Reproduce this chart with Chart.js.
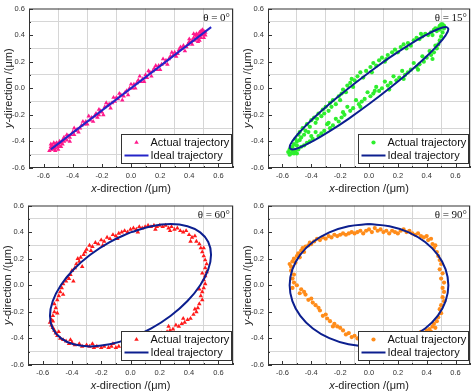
<!DOCTYPE html>
<html>
<head>
<meta charset="utf-8">
<script src="https://cdn.jsdelivr.net/npm/chart.js@4.4.1/dist/chart.umd.min.js"></script>
<style>
  html, body { margin: 0; padding: 0; background: #fff; }
  #wrap { position: relative; width: 474px; height: 392px; overflow: hidden; }
  .panel { position: absolute; }
</style>
</head>
<body>
<div id="wrap">
  <div class="panel" style="left:0;top:0"><canvas id="c0" width="237" height="196"></canvas></div>
  <div class="panel" style="left:237px;top:0"><canvas id="c1" width="237" height="196"></canvas></div>
  <div class="panel" style="left:0;top:197px"><canvas id="c2" width="237" height="195"></canvas></div>
  <div class="panel" style="left:237px;top:197px"><canvas id="c3" width="237" height="195"></canvas></div>
</div>
<script>
// textos
const thetaLabels = ['θ = 0°', 'θ = 15°', 'θ = 60°', 'θ = 90°'];
const actualLabel = 'Actual trajectory';
const idealLabel = 'Ideal trajectory';
const xTitle = ['x', '-direction /(μm)'];
const yTitle = ['y', '-direction /(μm)'];

// eixos
const xMin = -0.7, xMax = 0.7;
const yMin = -0.6, yMax = 0.6;
const tickStep = 0.1;

// pontos medidos (x, y) em µm
const actual0 = [
  [-0.56,-0.47],[-0.55,-0.46],[-0.55,-0.44],[-0.54,-0.45],[-0.54,-0.43],[-0.53,-0.46],[-0.53,-0.44],[-0.52,-0.42],
  [-0.52,-0.45],[-0.51,-0.43],[-0.51,-0.41],[-0.50,-0.44],[-0.50,-0.42],[-0.49,-0.40],[-0.49,-0.43],[-0.48,-0.41],
  [-0.47,-0.39],[-0.47,-0.42],[-0.46,-0.40],[-0.45,-0.38],[-0.44,-0.39],[-0.43,-0.36],[-0.42,-0.37],[-0.41,-0.35],
  [-0.40,-0.33],[-0.39,-0.35],[-0.38,-0.32],[-0.37,-0.31],[-0.35,-0.30],[-0.34,-0.28],[-0.32,-0.27],[-0.31,-0.25],
  [-0.30,-0.27],[-0.28,-0.24],[-0.27,-0.22],[-0.25,-0.21],[-0.24,-0.19],[-0.23,-0.22],[-0.22,-0.20],[-0.21,-0.17],
  [-0.20,-0.18],[-0.18,-0.14],[-0.16,-0.13],[-0.15,-0.12],[-0.13,-0.11],[-0.11,-0.10],[-0.10,-0.07],[-0.09,-0.08],
  [-0.07,-0.05],[-0.05,-0.06],[-0.04,-0.03],[-0.03,-0.02],[-0.01,0.00],[0.01,0.00],[0.02,0.03],[0.04,0.04],
  [0.05,0.06],[0.07,0.05],[0.08,0.07],[0.10,0.10],[0.11,0.08],[0.13,0.12],[0.15,0.13],[0.16,0.15],
  [0.18,0.14],[0.19,0.17],[0.21,0.18],[0.23,0.19],[0.24,0.21],[0.26,0.22],[0.27,0.24],[0.29,0.25],
  [0.30,0.27],[0.32,0.26],[0.33,0.29],[0.35,0.30],[0.36,0.32],[0.38,0.31],[0.39,0.33],[0.40,0.35],
  [0.41,0.34],[0.42,0.36],[0.43,0.38],[0.44,0.36],[0.45,0.39],[0.46,0.37],[0.46,0.40],[0.47,0.39],
  [0.48,0.41],[0.48,0.38],[0.49,0.42],[0.49,0.40],[0.50,0.41],[0.50,0.43],[0.51,0.42],[0.51,0.40],
  [0.47,0.42],[0.45,0.41],
  [-0.55,-0.42],[-0.53,-0.41],[-0.52,-0.47],[-0.50,-0.46],[-0.48,-0.44],[-0.46,-0.37],[-0.44,-0.35],[-0.42,-0.40],
  [-0.39,-0.30],[-0.36,-0.33],[-0.33,-0.25],[-0.29,-0.21],[-0.26,-0.25],[-0.22,-0.16],[-0.19,-0.20],[-0.17,-0.11],
  [-0.14,-0.15],[-0.12,-0.07],[-0.08,-0.04],[-0.06,-0.09],[-0.02,-0.05],[0.00,0.03],[0.03,0.00],[0.06,0.09],
  [0.09,0.05],[0.12,0.13],[0.14,0.09],[0.17,0.17],[0.20,0.14],[0.22,0.22],[0.25,0.18],[0.28,0.27],
  [0.31,0.24],[0.34,0.31],[0.37,0.28],[0.40,0.37],[0.42,0.33],[0.44,0.40],[0.46,0.35],[0.48,0.43],
  [0.50,0.38],[0.49,0.44],[0.47,0.36],[0.43,0.41]
];
const actual1 = [
  [-0.56,-0.48],[-0.55,-0.46],[-0.54,-0.49],[-0.53,-0.44],[-0.53,-0.47],[-0.52,-0.42],[-0.51,-0.38],[-0.50,-0.40],
  [-0.49,-0.35],[-0.48,-0.33],[-0.47,-0.37],[-0.46,-0.30],[-0.44,-0.32],[-0.43,-0.27],[-0.41,-0.29],[-0.40,-0.24],
  [-0.38,-0.22],[-0.37,-0.26],[-0.35,-0.19],[-0.33,-0.21],[-0.32,-0.16],[-0.30,-0.14],[-0.28,-0.17],[-0.27,-0.11],
  [-0.25,-0.09],[-0.23,-0.12],[-0.21,-0.06],[-0.19,-0.04],[-0.18,-0.01],[-0.16,-0.03],[-0.15,0.02],[-0.13,0.04],
  [-0.11,0.01],[-0.10,0.06],[-0.08,0.09],[-0.06,0.12],[-0.04,0.08],[-0.02,0.13],[0.01,0.16],[0.03,0.19],
  [0.05,0.17],[0.07,0.21],[0.09,0.23],[0.11,0.20],[0.13,0.25],[0.16,0.27],[0.18,0.29],[0.20,0.27],
  [0.22,0.31],[0.24,0.33],[0.27,0.34],[0.29,0.32],[0.31,0.36],[0.33,0.38],[0.35,0.37],[0.37,0.39],
  [0.39,0.41],[0.41,0.40],[0.43,0.42],[0.45,0.44],[0.47,0.43],[0.48,0.45],[0.49,0.47],[0.50,0.46],
  [0.51,0.48],[0.52,0.47],[0.50,0.48],[0.46,0.45],
  [0.52,0.45],[0.51,0.42],[0.50,0.39],[0.49,0.36],[0.48,0.33],[0.47,0.30],[0.46,0.32],[0.45,0.27],
  [0.43,0.25],[0.42,0.28],[0.40,0.23],[0.38,0.20],[0.37,0.24],[0.35,0.18],[0.33,0.16],[0.31,0.19],
  [0.29,0.14],[0.27,0.12],[0.25,0.10],[0.23,0.13],[0.21,0.08],[0.19,0.06],[0.17,0.09],[0.15,0.04],
  [0.13,0.02],[0.11,0.05],[0.09,0.00],[0.07,-0.02],[0.05,0.01],[0.03,-0.04],[0.01,-0.06],[-0.01,-0.03],
  [-0.03,-0.08],[-0.05,-0.10],[-0.07,-0.12],[-0.09,-0.09],[-0.11,-0.15],[-0.13,-0.17],[-0.15,-0.14],[-0.17,-0.20],
  [-0.19,-0.22],[-0.21,-0.25],[-0.23,-0.23],[-0.25,-0.28],[-0.27,-0.30],[-0.29,-0.27],[-0.31,-0.32],[-0.33,-0.34],
  [-0.35,-0.36],[-0.37,-0.33],[-0.39,-0.38],[-0.41,-0.40],[-0.43,-0.41],[-0.45,-0.43],[-0.47,-0.44],[-0.49,-0.46],
  [-0.51,-0.47],[-0.53,-0.48],[-0.55,-0.50],
  [-0.54,-0.45],[-0.52,-0.49],[-0.50,-0.43],[-0.48,-0.39],[-0.45,-0.35],[-0.42,-0.33],[-0.36,-0.23],[-0.31,-0.19],
  [-0.26,-0.14],[-0.20,-0.09],[-0.12,0.07],[0.02,0.12],[0.12,0.22],[0.26,0.30],[0.36,0.41],[0.44,0.40],
  [0.49,0.44],[0.51,0.46],[0.44,0.22],[0.34,0.14],[0.24,0.07],[0.14,-0.01],[0.04,-0.02],[-0.06,-0.14],
  [-0.18,-0.18],[-0.28,-0.26],[-0.40,-0.36],[-0.50,-0.49]
];
const actual2 = [
  [-0.30,0.27],[-0.28,0.30],[-0.26,0.29],[-0.24,0.32],[-0.22,0.31],[-0.20,0.34],[-0.18,0.33],[-0.16,0.36],
  [-0.14,0.35],[-0.12,0.38],[-0.10,0.37],[-0.08,0.39],[-0.06,0.40],[-0.04,0.41],[-0.02,0.40],[0.00,0.42],
  [0.02,0.43],[0.04,0.42],[0.06,0.44],[0.08,0.43],[0.10,0.44],[0.12,0.45],[0.14,0.44],[0.16,0.45],
  [0.18,0.44],[0.20,0.45],[0.22,0.44],[0.24,0.45],[0.26,0.43],[0.28,0.44],[0.30,0.42],[0.32,0.43],
  [0.34,0.41],[0.36,0.40],[0.38,0.41],
  [0.40,0.38],[0.42,0.36],[0.44,0.37],[0.45,0.33],[0.47,0.31],[0.48,0.28],[0.49,0.25],[0.50,0.22],
  [0.51,0.19],[0.52,0.16],[0.51,0.13],[0.52,0.10],[0.51,0.07],[0.50,0.04],[0.51,0.01],[0.50,-0.02],
  [0.49,-0.05],[0.48,-0.08],[0.49,-0.11],[0.47,-0.14],[0.46,-0.17],[0.45,-0.20],
  [0.43,-0.22],[0.41,-0.25],[0.39,-0.26],[0.37,-0.28],[0.35,-0.29],[0.33,-0.31],[0.31,-0.30],[0.29,-0.33],
  [0.27,-0.34],[0.25,-0.35],[0.23,-0.37],[0.21,-0.36],[0.19,-0.38],[0.17,-0.39],[0.15,-0.40],[0.12,-0.41],
  [0.10,-0.42],[0.07,-0.43],[0.05,-0.44],[0.02,-0.45],[0.00,-0.44],
  [-0.03,-0.46],[-0.05,-0.45],[-0.08,-0.46],[-0.10,-0.47],[-0.13,-0.46],[-0.15,-0.47],[-0.18,-0.46],[-0.20,-0.47],
  [-0.23,-0.46],[-0.25,-0.47],[-0.28,-0.46],[-0.30,-0.45],[-0.33,-0.46],[-0.35,-0.44],[-0.38,-0.45],[-0.40,-0.43],
  [-0.42,-0.44],[-0.44,-0.42],[-0.46,-0.41],[-0.48,-0.40],[-0.50,-0.38],[-0.51,-0.36],[-0.52,-0.34],[-0.53,-0.32],
  [-0.54,-0.30],[-0.55,-0.28],[-0.54,-0.26],
  [-0.53,-0.23],[-0.52,-0.20],[-0.51,-0.17],[-0.52,-0.14],[-0.50,-0.11],[-0.49,-0.08],[-0.48,-0.05],[-0.47,-0.02],
  [-0.46,0.01],[-0.44,0.03],[-0.43,0.06],[-0.41,0.08],[-0.40,0.11],[-0.38,0.13],[-0.37,0.16],[-0.35,0.18],
  [-0.34,0.21],[-0.32,0.23],[-0.31,0.25],[-0.36,0.20],[-0.42,0.05],
  [-0.27,0.26],[-0.19,0.30],[-0.09,0.35],[0.05,0.40],[0.17,0.42],[0.27,0.41],[0.41,0.33],[0.50,0.28],
  [0.49,0.09],[0.47,-0.03],[0.44,-0.18],[0.36,-0.25],[0.26,-0.31],[0.14,-0.38],[0.03,-0.42],[-0.12,-0.44],
  [-0.26,-0.44],[-0.41,-0.41],[-0.49,-0.35],[-0.53,-0.27],[-0.50,-0.21],[-0.46,-0.07],[-0.39,0.03],[-0.33,0.14]
];
const actual3 = [
  [-0.38,0.33],[-0.36,0.35],[-0.34,0.34],[-0.32,0.36],[-0.30,0.35],[-0.28,0.37],[-0.26,0.36],[-0.24,0.38],
  [-0.22,0.37],[-0.20,0.38],[-0.18,0.39],[-0.16,0.38],[-0.14,0.39],[-0.12,0.40],[-0.10,0.39],[-0.08,0.40],
  [-0.06,0.41],[-0.04,0.39],[-0.02,0.41],[0.00,0.42],[0.02,0.40],[0.04,0.43],[0.06,0.41],[0.08,0.42],
  [0.10,0.40],[0.12,0.41],[0.14,0.39],[0.16,0.41],[0.18,0.40],[0.20,0.39],[0.22,0.41],[0.24,0.42],
  [0.26,0.40],[0.28,0.41],[0.30,0.39],
  [0.32,0.38],[0.34,0.39],[0.36,0.37],[0.38,0.36],[0.40,0.37],[0.41,0.34],[0.43,0.35],[0.44,0.31],
  [0.45,0.28],[0.46,0.30],[0.47,0.25],
  [0.48,0.22],[0.49,0.19],[0.50,0.16],[0.49,0.12],[0.51,0.09],[0.50,0.05],[0.52,0.02],[0.51,-0.02],
  [0.52,-0.05],[0.51,-0.09],[0.52,-0.12],[0.50,-0.15],[0.49,-0.18],[0.50,-0.21],[0.48,-0.24],
  [0.47,-0.27],[0.45,-0.29],[0.46,-0.32],[0.44,-0.31],[0.42,-0.33],[0.43,-0.35],[0.40,-0.34],[0.38,-0.36],
  [0.36,-0.35],[0.34,-0.37],
  [0.06,-0.42],[0.04,-0.44],[0.02,-0.43],[0.00,-0.45],[-0.02,-0.43],[-0.04,-0.42],
  [-0.06,-0.41],[-0.08,-0.40],[-0.10,-0.38],[-0.12,-0.39],[-0.14,-0.36],[-0.16,-0.37],[-0.18,-0.34],[-0.20,-0.32],
  [-0.22,-0.31],[-0.24,-0.29],[-0.25,-0.31],[-0.27,-0.27],[-0.29,-0.25],[-0.30,-0.22],[-0.32,-0.23],[-0.34,-0.19],
  [-0.35,-0.17],[-0.37,-0.15],[-0.39,-0.13],[-0.40,-0.10],[-0.42,-0.11],[-0.44,-0.07],[-0.45,-0.05],[-0.47,-0.03],
  [-0.48,-0.06],[-0.50,0.00],
  [-0.52,0.02],[-0.53,0.05],[-0.52,0.08],[-0.54,0.11],[-0.53,-0.02],
  [-0.54,0.14],[-0.55,0.16],[-0.53,0.18],[-0.52,0.20],[-0.51,0.17],[-0.50,0.22],[-0.49,0.24],[-0.48,0.21],
  [-0.47,0.26],[-0.46,0.28],[-0.45,0.25],[-0.44,0.29],[-0.42,0.30],[-0.41,0.32],[-0.40,0.31]
];

// trajetórias ideais
const ideal0 = [[-0.55,-0.46],[0.55,0.46]];
const ideal1 = [
  [0,0.119],[0.142,0.23],[0.275,0.325],[0.389,0.398],[0.476,0.444],[0.531,0.46],[0.55,0.444],[0.531,0.398],
  [0.476,0.325],[0.389,0.23],[0.275,0.119],[0.142,0],[0,-0.119],[-0.142,-0.23],[-0.275,-0.325],[-0.389,-0.398],
  [-0.476,-0.444],[-0.531,-0.46],[-0.55,-0.444],[-0.531,-0.398],[-0.476,-0.325],[-0.389,-0.23],[-0.275,-0.119],
  [-0.142,0],[0,0.119]
];
const ideal2 = [
  [0,0.398],[0.142,0.444],[0.275,0.46],[0.389,0.444],[0.476,0.398],[0.531,0.325],[0.55,0.23],[0.531,0.119],
  [0.476,0],[0.389,-0.119],[0.275,-0.23],[0.142,-0.325],[0,-0.398],[-0.142,-0.444],[-0.275,-0.46],[-0.389,-0.444],
  [-0.476,-0.398],[-0.531,-0.325],[-0.55,-0.23],[-0.531,-0.119],[-0.476,0],[-0.389,0.119],[-0.275,0.23],
  [-0.142,0.325],[0,0.398]
];
const ideal3 = [
  [0,0.46],[0.142,0.444],[0.275,0.398],[0.389,0.325],[0.476,0.23],[0.531,0.119],[0.55,0],[0.531,-0.119],
  [0.476,-0.23],[0.389,-0.325],[0.275,-0.398],[0.142,-0.444],[0,-0.46],[-0.142,-0.444],[-0.275,-0.398],
  [-0.389,-0.325],[-0.476,-0.23],[-0.531,-0.119],[-0.55,0],[-0.531,0.119],[-0.476,0.23],[-0.389,0.325],
  [-0.275,0.398],[-0.142,0.444],[0,0.46]
];

const actualSets = [actual0, actual1, actual2, actual3];
const idealSets = [ideal0, ideal1, ideal2, ideal3];

// estilos
const pointColors = ['#ff1a8c', '#2eee2e', '#ff1a1a', '#ff8c1a'];
const pointStyles = ['triangle', 'circle', 'triangle', 'circle'];
const pointSizes = [2.6, 2.1, 2.6, 2.1];
const lineColors = ['#2424c8', '#0c1f8f', '#0c1f8f', '#0c1f8f'];
const layouts = [
  { pad: { left: 0, right: 4, top: 3, bottom: 0 }, yw: 29, xh: 28 },
  { pad: { left: 0, right: 1, top: 3, bottom: 0 }, yw: 31, xh: 28 },
  { pad: { left: 0, right: 4, top: 3, bottom: 0 }, yw: 28, xh: 27 },
  { pad: { left: 0, right: 0, top: 3, bottom: 0 }, yw: 31, xh: 27 }
];

const FONT = "'Liberation Sans', Arial, sans-serif";
const tenth = v => Math.round(v * 10);

function drawMixed(ctx, parts, cx, cy) {
  ctx.font = 'italic 11px ' + FONT;
  const w1 = ctx.measureText(parts[0]).width;
  ctx.font = '11px ' + FONT;
  const w2 = ctx.measureText(parts[1]).width;
  const x0 = cx - (w1 + w2) / 2;
  ctx.textAlign = 'left';
  ctx.textBaseline = 'middle';
  ctx.font = 'italic 11px ' + FONT;
  ctx.fillText(parts[0], x0, cy);
  ctx.font = '11px ' + FONT;
  ctx.fillText(parts[1], x0 + w1, cy);
}

// moldura, ticks internos, títulos, legenda
const decor = {
  id: 'decor',
  afterDraw(chart, args, o) {
    const { ctx, chartArea: a, scales: { x, y } } = chart;
    ctx.save();
    ctx.strokeStyle = '#333';
    ctx.lineWidth = 1;
    ctx.strokeRect(a.left + 0.5, a.top + 0.5, a.right - a.left - 1, a.bottom - a.top - 1);
    ctx.beginPath();
    x.ticks.forEach(t => {
      const len = tenth(t.value) % 2 === 0 ? 4 : 2;
      const px = Math.round(x.getPixelForValue(t.value)) + 0.5;
      ctx.moveTo(px, a.bottom); ctx.lineTo(px, a.bottom - len);
    });
    y.ticks.forEach(t => {
      const len = tenth(t.value) % 2 === 0 ? 4 : 2;
      const py = Math.round(y.getPixelForValue(t.value)) + 0.5;
      ctx.moveTo(a.left, py); ctx.lineTo(a.left + len, py);
    });
    ctx.stroke();

    // títulos
    ctx.fillStyle = '#222';
    drawMixed(ctx, xTitle, (a.left + a.right) / 2, a.bottom + 21);
    ctx.save();
    ctx.translate(a.left - 20, (a.top + a.bottom) / 2);
    ctx.rotate(-Math.PI / 2);
    drawMixed(ctx, yTitle, 0, 0);
    ctx.restore();

    // ângulo
    ctx.font = "11px 'Liberation Serif', 'DejaVu Serif', serif";
    ctx.textAlign = 'right';
    ctx.textBaseline = 'middle';
    ctx.fillStyle = '#111';
    ctx.fillText(o.theta, a.right - 3, a.top + 10);

    // legenda
    const bw = 110, bh = 29;
    const bx = Math.round(a.right - 2 - bw) + 0.5, by = Math.round(a.bottom - 5 - bh) + 0.5;
    ctx.fillStyle = '#fff';
    ctx.fillRect(bx, by, bw, bh);
    ctx.strokeStyle = '#333';
    ctx.strokeRect(bx, by, bw, bh);
    const ds = chart.data.datasets;
    const act = ds.find(d => d.label === actualLabel);
    const ide = ds.find(d => d.label === idealLabel);
    ctx.fillStyle = act.backgroundColor;
    Chart.helpers.drawPoint(ctx, { pointStyle: act.pointStyle, radius: act.pointRadius, rotation: 0, borderWidth: 0 }, bx + 15, by + 8);
    ctx.strokeStyle = ide.borderColor;
    ctx.lineWidth = 2;
    ctx.beginPath();
    ctx.moveTo(bx + 3, by + 21); ctx.lineTo(bx + 27, by + 21);
    ctx.stroke();
    ctx.fillStyle = '#111';
    ctx.font = '11px ' + FONT;
    ctx.textAlign = 'left';
    ctx.textBaseline = 'middle';
    ctx.fillText(act.label, bx + 29, by + 8);
    ctx.fillText(ide.label, bx + 29, by + 21);
    ctx.restore();
  }
};

function gridColor(ctx) {
  if (!ctx.tick) return 'rgba(0,0,0,0)';
  return Math.abs(tenth(ctx.tick.value)) % 2 === 1 ? '#d6d6d6' : 'rgba(0,0,0,0)';
}
function tickLabel(v) {
  const k = tenth(v);
  return k % 2 === 0 ? (k / 10).toFixed(1) : '';
}

for (let i = 0; i < 4; i++) {
  const L = layouts[i];
  new Chart(document.getElementById('c' + i), {
    type: 'scatter',
    data: {
      datasets: [
        {
          label: idealLabel,
          data: idealSets[i].map(([x, y]) => ({ x, y })),
          showLine: true,
          borderColor: lineColors[i],
          borderWidth: 2,
          pointRadius: 0,
          tension: i === 0 ? 0 : 0.4,
          order: 0
        },
        {
          label: actualLabel,
          data: actualSets[i].map(([x, y]) => ({ x, y })),
          backgroundColor: pointColors[i],
          borderWidth: 0,
          pointStyle: pointStyles[i],
          pointRadius: pointSizes[i],
          order: 1
        }
      ]
    },
    options: {
      responsive: false,
      animation: false,
      events: [],
      layout: { padding: L.pad },
      plugins: {
        legend: { display: false },
        tooltip: { enabled: false },
        decor: { theta: thetaLabels[i] }
      },
      scales: {
        x: {
          type: 'linear', min: xMin, max: xMax,
          border: { display: false },
          grid: { color: gridColor, drawTicks: false, lineWidth: 1 },
          ticks: { stepSize: tickStep, autoSkip: false, maxRotation: 0, padding: 3,
                   color: '#333', font: { family: FONT, size: 7.5 }, callback: tickLabel },
          afterFit: s => { s.height = L.xh; }
        },
        y: {
          type: 'linear', min: yMin, max: yMax,
          border: { display: false },
          grid: { color: gridColor, drawTicks: false, lineWidth: 1 },
          ticks: { stepSize: tickStep, autoSkip: false, padding: 4,
                   color: '#333', font: { family: FONT, size: 7.5 }, callback: tickLabel },
          afterFit: s => { s.width = L.yw; }
        }
      }
    },
    plugins: [decor]
  });
}
</script>
</body>
</html>
